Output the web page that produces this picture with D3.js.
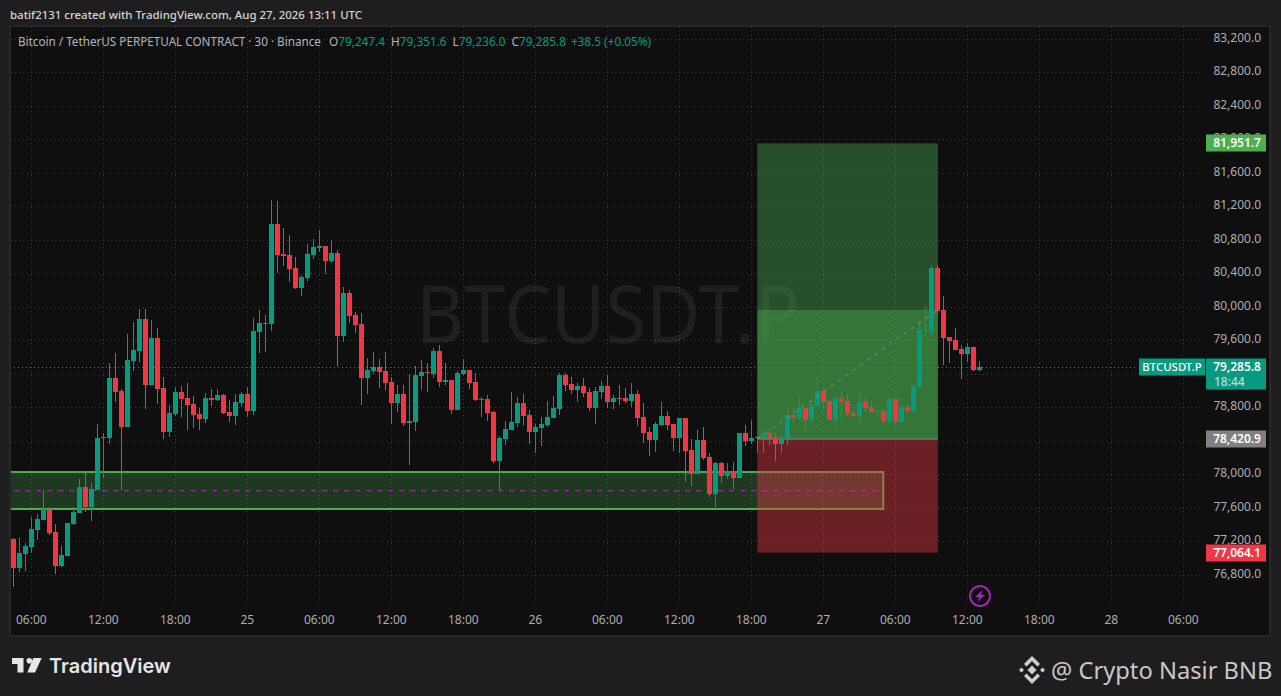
<!DOCTYPE html>
<html><head><meta charset="utf-8">
<script src="https://cdn.jsdelivr.net/npm/d3@7/dist/d3.min.js"></script>
<style>html,body{margin:0;padding:0;background:#1e1e1e;overflow:hidden}svg{display:block}text{font-family:"Noto Sans",sans-serif}</style>
</head><body><svg id="c" width="1281" height="696"></svg>
<script>
const opens=[77227,76881,77048,77132,77335,77454,77586,77311,76905,77024,77406,77538,77848,77609,77812,78433,78433,79150,78995,78565,79353,79472,79854,79066,79627,79030,78505,78720,78983,78911,78839,78720,78660,78911,78887,78947,78744,78696,78851,78959,78756,79699,79794,79794,80988,80630,80618,80463,80224,80343,80618,80702,80726,80547,80642,79651,80165,79902,79794,79150,79233,79281,79233,79102,78851,78959,78612,78624,79174,79221,79197,79472,79102,79126,78768,79197,79245,79102,78899,78899,78744,78159,78421,78529,78612,78851,78708,78505,78553,78588,78672,78780,79186,79078,79007,79054,78983,78792,78983,79054,78863,78911,78911,78875,78959,78684,78505,78409,78588,78696,78600,78433,78672,78290,78003,78409,78206,77765,78135,77979,78039,77956,78493,78398,78433,78433,78493,78445,78362,78409,78708,78672,78792,78648,78815,78995,78875,78648,78911,78875,78732,78696,78863,78803,78744,78756,78636,78899,78624,78803,78756,79042,79711,79711,80463,79962,79639,79603,79496,79436,79520,79247.4];
const highs=[77239,77239,77180,77490,77526,77812,77609,77406,77144,77418,77609,77944,78027,77896,78600,78493,79329,79448,79019,79675,79818,79974,79974,79842,79747,79162,78827,79042,79054,79090,78935,78792,78971,79019,79019,78959,78887,78959,78983,79042,79866,79962,79902,81275,81263,80940,80857,80594,80379,80750,80809,80921,80726,80797,80678,80236,80200,79938,79926,79388,79460,79376,79460,79162,79066,79066,79198,79293,79365,79329,79508,79544,79329,79126,79233,79376,79245,79209,78923,78947,78756,78457,78636,78983,78923,78959,78768,78600,78684,78875,78935,79209,79209,79162,79090,79150,79030,79042,79114,79186,78947,79066,79030,79090,79007,78851,78565,78624,78863,78756,78600,78672,78672,78421,78529,78565,78255,78147,78147,78135,78147,78493,78588,78648,78457,78553,78553,78493,78481,78803,78792,78947,78792,78911,79150,79007,78875,78947,78995,78959,78768,78971,78923,78875,78780,78780,78923,78899,78827,78839,79078,79842,79998,80487,80499,80129,79639,79747,79544,79568,79520,79351.6];
const lows=[76654,76833,76845,77060,77215,77454,77275,76809,76893,77024,77394,77538,77550,77442,77812,77956,78362,78863,77812,78565,79233,79341,78780,79066,78839,78421,78445,78696,78684,78529,78553,78529,78612,78815,78875,78720,78624,78588,78803,78684,78708,79448,79460,79711,80403,80487,80296,80212,80129,80308,80570,80654,80391,80523,79293,79579,79806,79687,78827,78959,79198,79030,79007,78600,78744,78576,78111,78517,79007,78983,79150,79042,79066,78720,78768,79186,79019,78875,78684,78636,78135,77812,78350,78529,78565,78588,78362,78255,78338,78565,78672,78708,78995,78959,78863,78923,78756,78600,78899,78792,78780,78827,78851,78803,78576,78374,78218,78266,78576,78529,78278,78255,77908,77860,78003,78171,77729,77609,77896,77944,77824,77956,78338,78362,78255,78255,78350,78159,78255,78350,78612,78648,78517,78612,78815,78780,78648,78529,78672,78696,78672,78612,78744,78744,78660,78612,78576,78576,78624,78732,78756,79019,79651,79651,79890,79305,79329,79484,79138,79341,79233,79236.0];
const closes=[76881,77060,77144,77347,77466,77586,77299,76905,77036,77418,77550,77848,77609,77824,78433,78445,79150,78983,78565,79365,79484,79854,79066,79627,79019,78505,78732,78983,78899,78827,78708,78660,78911,78887,78947,78732,78696,78863,78959,78756,79711,79806,79806,80988,80618,80606,80451,80224,80355,80630,80714,80726,80547,80642,79651,80165,79890,79782,79150,79245,79281,79221,79090,78851,78959,78612,78636,79186,79221,79209,79472,79102,79126,78768,79209,79245,79090,78887,78887,78732,78159,78433,78541,78624,78851,78696,78505,78565,78600,78684,78792,79186,79066,79007,79054,78971,78792,78995,79054,78863,78911,78899,78875,78959,78672,78493,78409,78600,78696,78588,78433,78672,78278,78003,78409,78194,77765,78135,77979,78039,77956,78493,78398,78433,78445,78493,78433,78362,78421,78708,78672,78792,78648,78827,78995,78863,78648,78911,78863,78720,78696,78863,78792,78744,78756,78636,78899,78624,78803,78756,79054,79723,79723,80463,79950,79627,79591,79484,79436,79520,79245,79285.8];

const gridPrices=[76800,77200,77600,78000,78400,78800,79200,79600,80000,80400,80800,81200,81600,82000,82400,82800,83200];
const priceTicks=[76800,77200,77600,78000,78800,79600,80000,80400,80800,81200,81600,82000,82400,82800,83200];
const timeTickBars=[3,15,27,39,51,63,75,87,99,111,123,135,147,159,171,183,195];
const timeTickLabels=["06:00","12:00","18:00","25","06:00","12:00","18:00","26","06:00","12:00","18:00","27","06:00","12:00","18:00","28","06:00"];

const targetPrice=81951.7, entryPrice=78420.9, stopPrice=77064.1, lastPrice=79285.8;
const reachedPrice=79963, zoneTop=78027, zoneMid=77806, zoneBottom=77586;
const positionBars=[124,154.1], zoneEndBar=145;
const legendName="Bitcoin / TetherUS PERPETUAL CONTRACT · 30 · Binance";
const ohlc=[["O","79,247.4"],["H","79,351.6"],["L","79,236.0"],["C","79,285.8"]];

const W=1281,H=696;
const pane={l:10,r:1270,t:26,b:636}, plotR=1203, plotB=607;
const x=d3.scaleLinear().domain([0,161]).range([13.3,979.3]);
const y=d3.scaleLinear().domain([78800,81200]).range([407.3,206.3]);
const TEAL="#089981",RED="#f23645",GREEN="#4caf50";
const svg=d3.select("#c");
svg.append("rect").attr("width",W).attr("height",H).attr("fill","#1e1e1e");
svg.append("rect").attr("x",pane.l).attr("y",pane.t).attr("width",pane.r-pane.l).attr("height",pane.b-pane.t).attr("fill","#0f0f0f").attr("stroke","#2e2e2e").attr("stroke-width",1.5);
svg.append("defs").append("clipPath").attr("id","pc").append("rect").attr("x",pane.l+1).attr("y",pane.t+1).attr("width",plotR-pane.l).attr("height",plotB+29-pane.t-2);

// grid
const grid=svg.append("g").attr("stroke","#3a3a3a").attr("stroke-dasharray","1 3");
grid.selectAll(".h").data(gridPrices).join("line").attr("x1",pane.l+1).attr("x2",plotR).attr("y1",d=>Math.round(y(d))+.5).attr("y2",d=>Math.round(y(d))+.5);
grid.selectAll(".v").data(timeTickBars).join("line").attr("x1",d=>Math.round(x(d))+.5).attr("x2",d=>Math.round(x(d))+.5).attr("y1",pane.t+1).attr("y2",plotB);

// axes
const yAxis=d3.axisRight(y).tickValues(priceTicks).tickSize(0).tickPadding(0).tickFormat(d3.format(",.1f"));
const gy=svg.append("g").attr("transform","translate(1261,-1.5)").call(yAxis);
gy.select(".domain").remove();
gy.selectAll("text").attr("text-anchor","end").attr("x",0).attr("fill","#aeaeae").style("font-size","12px").style("font-family",'"Noto Sans",sans-serif');
const xAxis=d3.axisBottom(x).offset(0).tickValues(timeTickBars).tickSize(0).tickPadding(0).tickFormat((d,i)=>timeTickLabels[i]);
const gx=svg.append("g").attr("transform","translate(0,615)").call(xAxis);
gx.select(".domain").remove();
gx.selectAll("text").attr("fill","#aeaeae").style("font-size","12px").style("font-family",'"Noto Sans",sans-serif');

// watermark
svg.append("text").attr("x",416).attr("y",343).attr("textLength",384).attr("lengthAdjust","spacingAndGlyphs").attr("fill","#fff").attr("fill-opacity",.065).style("font-size","80px").text("BTCUSDT.P");

const plot=svg.append("g").attr("clip-path","url(#pc)");
// support zone
plot.append("rect").attr("x",x(-20)).attr("width",x(zoneEndBar)-x(-20)).attr("y",y(zoneTop)).attr("height",y(zoneBottom)-y(zoneTop)).attr("fill",GREEN).attr("fill-opacity",.27).attr("stroke",GREEN).attr("stroke-width",2);
plot.append("line").attr("x1",x(-20)).attr("x2",x(zoneEndBar)).attr("y1",y(zoneMid)).attr("y2",y(zoneMid)).attr("stroke","#9c27b0").attr("stroke-width",1.3).attr("stroke-dasharray","5 6");
// position
const px0=x(positionBars[0]),px1=x(positionBars[1]);
plot.append("rect").attr("x",px0).attr("width",px1-px0).attr("y",y(targetPrice)).attr("height",y(entryPrice)-y(targetPrice)).attr("fill",GREEN).attr("fill-opacity",.4);
plot.append("rect").attr("x",px0).attr("width",px1-px0).attr("y",y(reachedPrice)).attr("height",y(entryPrice)-y(reachedPrice)).attr("fill",GREEN).attr("fill-opacity",.4);
plot.append("rect").attr("x",px0).attr("width",px1-px0).attr("y",y(entryPrice)).attr("height",y(stopPrice)-y(entryPrice)).attr("fill",RED).attr("fill-opacity",.4);
plot.append("line").attr("x1",px0).attr("x2",px1).attr("y1",y(entryPrice)).attr("y2",y(entryPrice)).attr("stroke","#8a8a8a").attr("stroke-width",1);

// last price line
plot.append("line").attr("x1",pane.l).attr("x2",1138).attr("y1",Math.round(y(lastPrice))+.5).attr("y2",Math.round(y(lastPrice))+.5).attr("stroke",TEAL).attr("stroke-dasharray","1 3");

// candles
const bars=d3.range(opens.length);
const color=i=>closes[i]>=opens[i]?TEAL:RED;
const cx=i=>Math.round(x(i)-.5)+.5;
const cg=plot.append("g").attr("shape-rendering","crispEdges");
cg.selectAll(".w").data(bars).join("line").attr("x1",cx).attr("x2",cx).attr("y1",i=>y(highs[i])).attr("y2",i=>y(lows[i])).attr("stroke",color).attr("stroke-width",1);
cg.selectAll(".b").data(bars).join("rect").attr("x",i=>cx(i)-2.5).attr("width",5)
 .attr("y",i=>y(Math.max(opens[i],closes[i]))).attr("height",i=>Math.max(1,Math.abs(y(opens[i])-y(closes[i])))).attr("fill",color);

// diagonal
plot.append("line").attr("x1",px0).attr("y1",y(entryPrice)).attr("x2",px1).attr("y2",y(reachedPrice)).attr("stroke","#b4b4b4").attr("stroke-opacity",.5).attr("stroke-dasharray","4 5");

// right labels
function tag(x0,x1,price,h,fill){return svg.append("rect").attr("x",x0).attr("width",x1-x0).attr("y",Math.round(y(price))-8.5).attr("height",h).attr("fill",fill);}
function lab(xp,yp,t,fill,op,anchor,w,fs){svg.append("text").attr("x",xp).attr("y",yp).attr("text-anchor",anchor||"end").attr("fill",fill).attr("fill-opacity",op||1).style("font-size",(fs||12)+"px").style("font-weight",w||600).text(t);}
tag(1206,1266,targetPrice,17,GREEN); lab(1261,y(targetPrice)+4,"81,951.7","#fff");
tag(1206,1266,entryPrice,17,"#808080"); lab(1261,y(entryPrice)+4,"78,420.9","#fff");
tag(1206,1266,stopPrice,17,RED); lab(1261,y(stopPrice)+4,"77,064.1","#fff");
tag(1139,1205,lastPrice,17,TEAL); lab(1172,y(lastPrice)+4,"BTCUSDT.P","#fff",1,"middle",500,11.4);
tag(1206,1266,lastPrice,31,TEAL); lab(1261,y(lastPrice)+4,"79,285.8","#fff");
lab(1214,y(lastPrice)+19,"18:44","#fff",.7,"start",500);

// header + legend
svg.append("text").attr("x",10).attr("y",19).attr("fill","#d4d4d4").style("font-size","11.45px").style("font-weight",500).text("batif2131 created with TradingView.com, Aug 27, 2026 13:11 UTC");
svg.append("text").attr("x",18).attr("y",46).attr("fill","#b2b5be").style("font-size","11.7px").text(legendName);
const leg=svg.append("text").attr("x",329).attr("y",46).style("font-size","11.8px");
ohlc.forEach((d,i)=>{leg.append("tspan").attr("dx",i?6:0).attr("fill","#b2b5be").text(d[0]);leg.append("tspan").attr("fill",TEAL).text(d[1]);});
leg.append("tspan").attr("dx",5).attr("fill",TEAL).text("+38.5 (+0.05%)");

// lightning icon
const ic=svg.append("g").attr("transform","translate(980,596)");
ic.append("circle").attr("r",10).attr("fill","none").attr("stroke","#9c27b0").attr("stroke-width",2);
ic.append("path").attr("d","M2.5,-6 L-5,1 L-1,1 L-2.5,6 L5,-1 L1,-1 Z").attr("fill","#9c27b0");

// footer logos
const logo=svg.append("g").attr("fill","#e6e6e6");
logo.append("path").attr("d","M12,658 H23.5 V672.5 H17.5 V664 H12 Z");
logo.append("circle").attr("cx",29.3).attr("cy",660.7).attr("r",2.8);
logo.append("path").attr("d","M33.3,658 H41.7 L35,672.5 H27.3 Z");
svg.append("text").attr("x",49).attr("y",673).attr("fill","#e6e6e6").style("font-family",'Inter,"Noto Sans",sans-serif').style("font-size","20px").style("font-weight",600).text("TradingView");
const bn=svg.append("g").attr("transform","translate(1032,670)").attr("fill","#cfcfcf");
bn.append("path").attr("d","M0,-4.5 L4.5,0 L0,4.5 L-4.5,0 Z");
bn.append("path").attr("d","M-13,0 L-10.5,-2.5 L-8,0 L-10.5,2.5 Z");
bn.append("path").attr("d","M13,0 L10.5,-2.5 L8,0 L10.5,2.5 Z");
bn.append("path").attr("d","M0,-14 L8,-6 L5.5,-3.5 L0,-9 L-5.5,-3.5 L-8,-6 Z");
bn.append("path").attr("d","M0,14 L8,6 L5.5,3.5 L0,9 L-5.5,3.5 L-8,6 Z");
svg.append("text").attr("x",1051).attr("y",679).attr("fill","#c8c8c8").style("font-size","23.7px").text("@ Crypto Nasir BNB");
</script></body></html>
